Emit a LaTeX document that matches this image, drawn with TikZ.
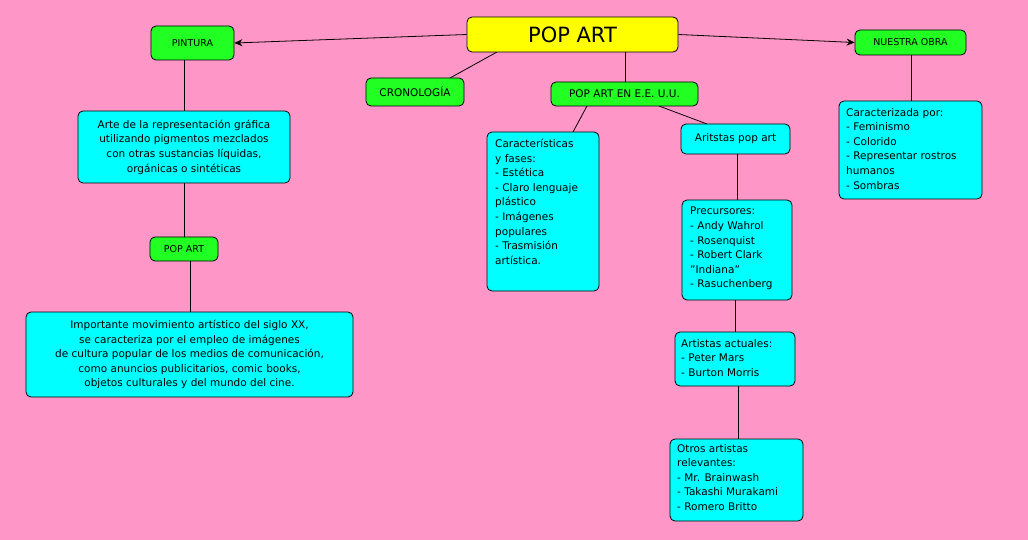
\documentclass[tikz,border=0pt]{standalone}
\usepackage{fontspec}
\setmainfont{DejaVu Sans}
\usetikzlibrary{arrows.meta}
\definecolor{bg}{HTML}{FF96C8}
\definecolor{gr}{HTML}{22FF22}
\definecolor{cy}{HTML}{00FFFF}
\definecolor{ye}{HTML}{FFFF00}
\newcommand{\bx}[6]{\node[box,fill=#6,minimum width={(#4-#2)*1pt},minimum height={(#5-#3)*1pt}] (#1) at ({(#2+#4)/2},{(#3+#5)/2}) {};}
\begin{document}
\begin{tikzpicture}[x=1pt,y=-1pt,
  box/.style={draw=black,rounded corners=5pt,inner sep=0pt,line width=0.8pt},
  txt/.style={font=\fontsize{10.5}{14.6}\selectfont,inner sep=0pt,align=left,anchor=north west},
  ctxt/.style={font=\fontsize{10.5}{14.6}\selectfont,inner sep=0pt,align=center},
  ln/.style={draw=black,line width=0.8pt},
  arr/.style={ln,-{Stealth[length=8pt,width=7pt]}}]
\fill[bg] (0,0) rectangle (1028,540);
\useasboundingbox (0,0) rectangle (1028,540);
% connectors first
\coordinate (c1) at (497,52); \coordinate (c2) at (450,78);
\draw[ln] (c1) -- (c2);
\coordinate (c3) at (625,52); \coordinate (c4) at (625,82);
\draw[ln] (c3) -- (c4);
\coordinate (c5) at (587,106); \coordinate (c6) at (573,132);
\draw[ln] (c5) -- (c6);
\coordinate (c7) at (659,106); \coordinate (c8) at (707,124);
\draw[ln] (c7) -- (c8);
\coordinate (p1) at (184,60); \coordinate (p2) at (184,111);
\draw[ln] (p1) -- (p2);
\coordinate (p3) at (184,183); \coordinate (p4) at (184,237);
\draw[ln] (p3) -- (p4);
\coordinate (p5) at (190,261); \coordinate (p6) at (190,312);
\draw[ln] (p5) -- (p6);
\coordinate (a1) at (737,154); \coordinate (a2) at (737,200);
\draw[ln] (a1) -- (a2);
\coordinate (a3) at (735,300); \coordinate (a4) at (735,332);
\draw[ln] (a3) -- (a4);
\coordinate (a5) at (738,386); \coordinate (a6) at (738,439);
\draw[ln] (a5) -- (a6);
\coordinate (n1) at (911,55); \coordinate (n2) at (911,101);
\draw[ln] (n1) -- (n2);
% boxes
\bx{pop}{467}{17}{678}{52}{ye}
\node[font=\fontsize{21}{24}\selectfont] at (pop) {POP ART};
\bx{pint}{151}{26}{234}{60}{gr}
\node[ctxt,font=\fontsize{9.5}{12}\selectfont] at (pint) {PINTURA};
\bx{nues}{855}{30}{966}{55}{gr}
\node[ctxt,font=\fontsize{9.5}{12}\selectfont] at (nues) {NUESTRA OBRA};
\bx{cron}{366}{78}{464}{106}{gr}
\node[ctxt] at (cron) {CRONOLOGÍA};
\bx{usa}{551}{82}{698}{106}{gr}
\node[ctxt] at (usa) {POP ART EN E.E. U.U.};
\bx{arte}{78}{111}{290}{183}{cy}
\node[ctxt] at (arte) {Arte de la representación gráfica\\utilizando pigmentos mezclados\\con otras sustancias líquidas,\\orgánicas o sintéticas};
\bx{pop2}{150}{237}{218}{261}{gr}
\node[ctxt,font=\fontsize{9.5}{12}\selectfont] at (pop2) {POP ART};
\bx{imp}{26}{312}{353}{397}{cy}
\node[ctxt] at (imp) {Importante movimiento artístico del siglo XX,\\se caracteriza por el empleo de imágenes\\de cultura popular de los medios de comunicación,\\como anuncios publicitarios, comic books,\\objetos culturales y del mundo del cine.};
\bx{car}{487}{132}{599}{291}{cy}
\node[txt] at (495,139) {Características\\y fases:\\- Estética\\- Claro lenguaje\\plástico\\- Imágenes\\populares\\- Trasmisión\\artística.};
\bx{arti}{681}{124}{790}{154}{cy}
\node[ctxt] at (arti) {Aritstas pop art};
\bx{carz}{839}{101}{982}{199}{cy}
\node[txt] at (846,108) {Caracterizada por:\\- Feminismo\\- Colorido\\- Representar rostros\\humanos\\- Sombras};
\bx{prec}{682}{200}{792}{300}{cy}
\node[txt] at (690,207) {Precursores:\\- Andy Wahrol\\- Rosenquist\\- Robert Clark\\"Indiana"\\- Rasuchenberg};
\bx{act}{675}{332}{795}{386}{cy}
\node[txt] at (681,339) {Artistas actuales:\\- Peter Mars\\- Burton Morris};
\bx{otr}{670}{439}{803}{521}{cy}
\node[txt] at (677,444) {Otros artistas\\relevantes:\\- Mr. Brainwash\\- Takashi Murakami\\- Romero Britto};
% arrows
\draw[arr] (pop.west) -- (pint.east);
\draw[arr] (pop.east) -- (nues.west);
\end{tikzpicture}
\end{document}
